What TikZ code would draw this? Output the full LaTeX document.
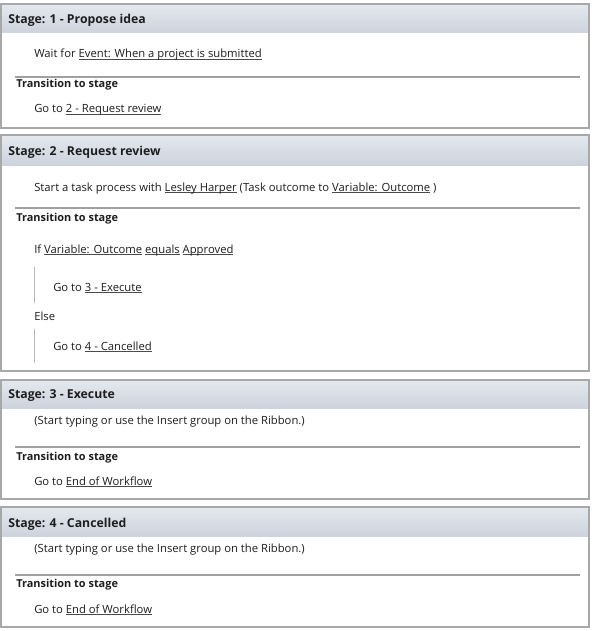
\documentclass[tikz,border=0pt]{standalone}
\usepackage{fontspec}
\setmainfont{Open Sans}
\definecolor{txt}{HTML}{1E1E1E}
\definecolor{frame}{HTML}{A8A8A8}
\definecolor{hdtop}{HTML}{E4E8EF}
\definecolor{hdbot}{HTML}{CDD3DC}
\definecolor{sep}{HTML}{A0A0A0}
\definecolor{bar}{HTML}{B8B8B8}
\newcommand{\lnk}[1]{\leavevmode\setbox0\hbox{#1}\rlap{\color{txt!80}\vrule height -1.1pt depth 1.75pt width \wd0}\box0\relax}
\tikzset{
  panel/.style={draw=frame, line width=0.8pt, fill=white},
  header/.style={top color=hdtop, bottom color=hdbot, draw=none},
  ttl/.style={anchor=base west, inner sep=0pt, font=\fontsize{9.2}{11}\selectfont\bfseries, text=txt},
  body/.style={anchor=base west, inner sep=0pt, font=\fontsize{8.45}{10}\selectfont, text=txt},
  sub/.style={anchor=base west, inner sep=0pt, font=\fontsize{8.2}{10}\selectfont\bfseries, text=txt},
  sepline/.style={draw=sep, line width=0.8pt},
  branch/.style={draw=bar, line width=0.8pt}
}
\begin{document}
\begin{tikzpicture}[x=0.75pt,y=-0.75pt]
\useasboundingbox (0,0) rectangle (594,631);
\fill[white] (0,0) rectangle (594,631);
% Panel 1
\path[panel] (1,4) rectangle (589,128);
\path[header] (1.5,4.5) rectangle (588.5,33);
\draw[frame, line width=0.8pt] (1,4) rectangle (589,128);
\node[ttl] (t1) at (8,24) {Stage: 1 - Propose idea};
\node[body] (w1) at (34,58) {Wait for \lnk{Event: When a project is submitted}};
\coordinate (s1a) at (15,77); \coordinate (s1b) at (580,77);
\draw[sepline] (s1a) -- (s1b);
\node[sub] (tr1) at (16,88) {Transition to stage};
\node[body] (g1) at (34,113) {Go to \lnk{2 - Request review}};
% Panel 2
\path[panel] (1,135) rectangle (589,371);
\path[header] (1.5,135.5) rectangle (588.5,165);
\draw[frame, line width=0.8pt] (1,135) rectangle (589,371);
\node[ttl] (t2) at (8,156) {Stage: 2 - Request review};
\node[body] (w2) at (34,191) {Start a task process with \lnk{Lesley Harper} (Task outcome to \lnk{Variable: Outcome} )};
\coordinate (s2a) at (15,208); \coordinate (s2b) at (580,208);
\draw[sepline] (s2a) -- (s2b);
\node[sub] (tr2) at (16,221) {Transition to stage};
\node[body] (if2) at (34,253) {If \lnk{Variable: Outcome} \lnk{equals} \lnk{Approved}};
\coordinate (b1a) at (34.5,267); \coordinate (b1b) at (34.5,303);
\draw[branch] (b1a) -- (b1b);
\node[body] (g2a) at (53,291) {Go to \lnk{3 - Execute}};
\node[body] (el2) at (34,320) {Else};
\coordinate (b2a) at (34.5,329); \coordinate (b2b) at (34.5,363);
\draw[branch] (b2a) -- (b2b);
\node[body] (g2b) at (53,350) {Go to \lnk{4 - Cancelled}};
% Panel 3
\path[panel] (1,380) rectangle (589,499);
\path[header] (1.5,380.5) rectangle (588.5,408);
\draw[frame, line width=0.8pt] (1,380) rectangle (589,499);
\node[ttl] (t3) at (8,398) {Stage: 3 - Execute};
\node[body] (w3) at (34,424) {(Start typing or use the Insert group on the Ribbon.)};
\coordinate (s3a) at (15,447); \coordinate (s3b) at (580,447);
\draw[sepline] (s3a) -- (s3b);
\node[sub] (tr3) at (16,460) {Transition to stage};
\node[body] (g3) at (34,485) {Go to \lnk{End of Workflow}};
% Panel 4
\path[panel] (1,507) rectangle (589,627);
\path[header] (1.5,507.5) rectangle (588.5,536);
\draw[frame, line width=0.8pt] (1,507) rectangle (589,627);
\node[ttl] (t4) at (8,527) {Stage: 4 - Cancelled};
\node[body] (w4) at (34,552) {(Start typing or use the Insert group on the Ribbon.)};
\coordinate (s4a) at (15,575); \coordinate (s4b) at (580,575);
\draw[sepline] (s4a) -- (s4b);
\node[sub] (tr4) at (16,587) {Transition to stage};
\node[body] (g4) at (34,613) {Go to \lnk{End of Workflow}};
\end{tikzpicture}
\end{document}
